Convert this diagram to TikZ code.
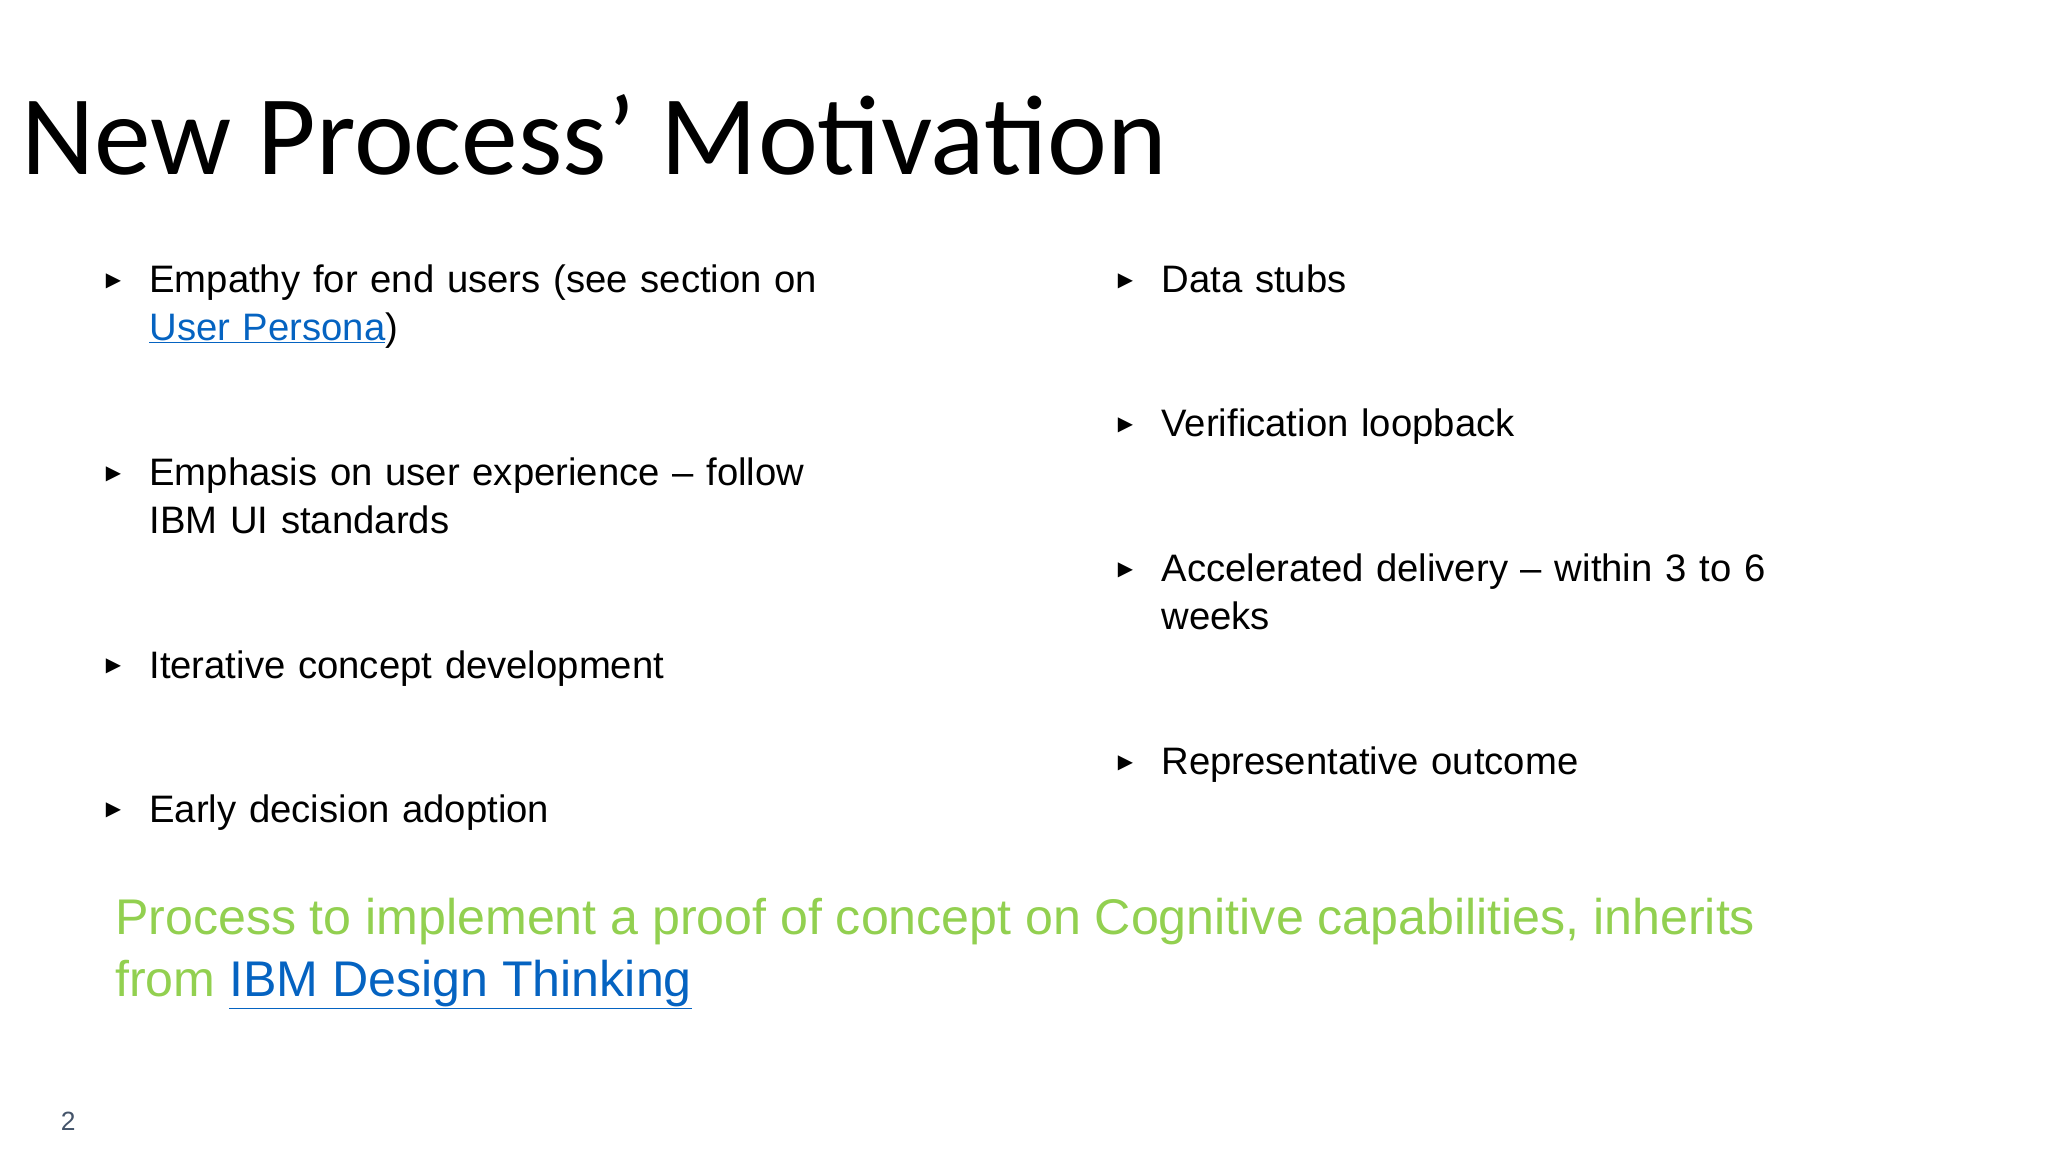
\documentclass[tikz,border=0pt]{standalone}
\usepackage{fontspec}
\setmainfont{Liberation Sans}
\newfontfamily\titlefont{Carlito}
\newfontfamily\symfont{DejaVu Sans}
\definecolor{linkblue}{RGB}{5,99,193}
\definecolor{greentx}{RGB}{146,208,80}
\definecolor{pgnum}{RGB}{68,84,106}
\newcommand\lnk[1]{\textcolor{linkblue}{\underline{#1}}}
\begin{document}
\begin{tikzpicture}[x=1pt,y=-1pt,
  item/.style={anchor=base west,inner sep=0pt,font=\fontsize{29}{36}\selectfont,align=left,text width=560pt},
  bul/.style={anchor=base west,inner sep=0pt,font=\symfont\fontsize{15}{15}\selectfont}]
\useasboundingbox (0,0) rectangle (1552,873);
\node[anchor=base west,inner sep=0pt,font=\titlefont\fontsize{86}{86}\selectfont] (title) at (16,132) {New Process’ Motivation};
% left column
\node[bul] (b1) at (80,217) {▶};
\node[item] (t1) at (113,222) {Empathy for end users (see section on\\\lnk{User Persona})};
\node[bul] (b2) at (80,363) {▶};
\node[item] (t2) at (113,368) {Emphasis on user experience – follow\\IBM UI standards};
\node[bul] (b3) at (80,509) {▶};
\node[item] (t3) at (113,514) {Iterative concept development};
\node[bul] (b4) at (80,618) {▶};
\node[item] (t4) at (113,623) {Early decision adoption};
% right column
\node[bul] (b5) at (847,217) {▶};
\node[item] (t5) at (880,222) {Data stubs};
\node[bul] (b6) at (847,326) {▶};
\node[item] (t6) at (880,331) {Verification loopback};
\node[bul] (b7) at (847,436) {▶};
\node[item] (t7) at (880,441) {Accelerated delivery – within 3 to 6\\weeks};
\node[bul] (b8) at (847,582) {▶};
\node[item] (t8) at (880,587) {Representative outcome};
% green statement
\node[anchor=base west,inner sep=0pt,text width=1243pt,align=justify,font=\fontsize{38}{47}\selectfont,text=greentx] (g) at (87,708)
 {Process to implement a proof of concept on Cognitive capabilities, inherits from \lnk{IBM Design Thinking}};
\node[anchor=base west,inner sep=0pt,font=\fontsize{20}{20}\selectfont,text=pgnum] (pg) at (46,857) {2};
\end{tikzpicture}
\end{document}
